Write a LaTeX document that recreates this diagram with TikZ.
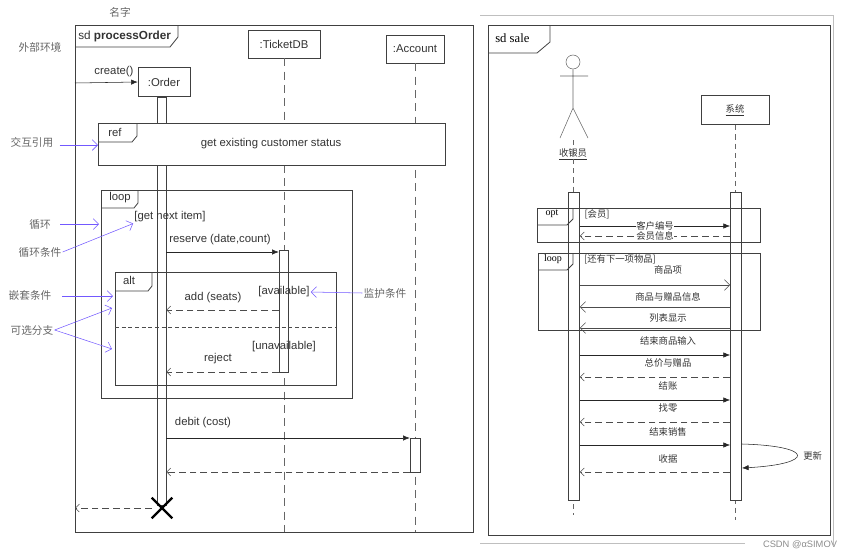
\documentclass[tikz,border=0pt]{standalone}
\usepackage{fontspec}
\setmainfont{Liberation Serif}
\newfontfamily\lsans{Liberation Sans}
\newfontfamily\cjk{Noto Sans CJK SC}
\usetikzlibrary{positioning,arrows.meta}
\definecolor{hintblue}{rgb}{0.45,0.35,1}

\tikzset{
  lbl/.style={inner sep=0.75pt, font=\lsans\fontsize{8.5}{9}\selectfont, text=black!80},
  note/.style={inner sep=0.75pt, font=\cjk\fontsize{8}{9}\selectfont, text=black!60},
  zh/.style={inner sep=0.75pt, font=\cjk\fontsize{7}{7.5}\selectfont, text=black!80},
  obj/.style={draw=black!75, fill=white, inner sep=0pt},
  act/.style={draw=black!75, fill=white, minimum width=6.75pt, inner sep=0pt},
  frm/.style={draw=black!75, line width=0.6pt},
  life/.style={draw=black!60, dash pattern=on 6pt off 4pt},
  hint/.style={draw=hintblue, -{Straight Barb[length=4pt]}},
  msg/.style={draw=black!85, -{Latex[length=5pt,width=4pt]}},
  ret/.style={draw=black!70, dash pattern=on 5pt off 3pt, -{Straight Barb[length=3pt]}},
  sync/.style={draw=black!70, -{Straight Barb[length=4pt]}}
}

\begin{document}
\begin{tikzpicture}[x=0.75pt,y=0.75pt,yscale=-1,xscale=1]
\useasboundingbox (0,0) rectangle (857,557);

% ---------- left: processOrder ----------
\draw[frm] (75,25) rectangle (473,532);
\draw[frm] (75,47) -- (170,47) -- (178,37) -- (178,25);
\node[lbl, anchor=west, font=\lsans\fontsize{8.8}{10}\selectfont] (sdpo) at (77,36) {sd \textbf{processOrder}};
\node[note] (nm) at (120,12) {名字};
\node[note] (env) at (40,47) {外部环境};

\node[obj, minimum width=54pt, minimum height=21pt, lbl] (tdb) at (284,44) {:TicketDB};
\node[obj, minimum width=43.5pt, minimum height=21pt, lbl] (acc) at (415,49) {:Account};
\node[obj, minimum width=39pt, minimum height=21.75pt, lbl] (order) at (164,82) {:Order};

\draw[life] (tdb.south) -- (284,532);
\draw[life] (acc.south) -- (415,532);
\node[act, minimum height=306pt, minimum width=6.75pt] (actO) at (161.5,301) {};
\node[act, minimum height=91.5pt] (actT) at (283.5,311) {};
\node[act, minimum height=25.5pt, minimum width=7.5pt] (actA) at (415,455) {};

\coordinate (envIn) at (75,83);
\draw[msg] (envIn) -- (order.west);
\node[lbl] (crt) at (114,72) {create()};

% ref
\draw[frm, fill=white] (98,123) rectangle (445,165);
\draw[frm] (98,142) -- (132,142) -- (137,136) -- (137,123);
\node[lbl] (refl) at (115,132) {ref};
\node[lbl] (refb) at (271,144) {get existing customer status};
\node[note] (n1) at (32,142) {交互引用};
\coordinate (r1) at (98,145);
\draw[hint] (n1.east |- r1) ++(5,0) -- (r1);

% loop
\draw[frm] (101,190) rectangle (352,398);
\draw[frm] (101,208) -- (134,208) -- (138,203) -- (138,190);
\node[lbl] (loopl) at (120,198) {loop};
\node[lbl] (cond) at (170,217) {[get next item]};
\node[note] (n2) at (40,224) {循环};
\coordinate (r2) at (99,224);
\draw[hint] (60,224) -- (r2);
\node[note] (n3) at (40,252) {循环条件};
\draw[hint] (n3.east) -- (cond.south west);

\node[lbl] (res) at (220,240) {reserve (date,count)};
\coordinate (m1) at (0,252);
\draw[msg] (actO.east |- m1) -- (actT.west |- m1);

% alt
\draw[frm] (115,272) rectangle (336,385);
\draw[frm] (115,291) -- (148,291) -- (152,286) -- (152,272);
\node[lbl] (altl) at (129,280) {alt};
\draw[draw=black!70, dash pattern=on 3pt off 2pt] (115,327) -- (336,327);
\node[note] (n4) at (30,295) {嵌套条件};
\coordinate (r4) at (113,296);
\draw[hint] (62,296) -- (r4);
\node[note] (n5) at (32,330) {可选分支};
\coordinate (r5) at (112,308);
\coordinate (r6) at (112,349);
\draw[hint] (n5.east) -- (r5);
\draw[hint] (n5.east) -- (r6);

\node[lbl] (avl) at (284,292) {[available]};
\node[note] (n6) at (385,293) {监护条件};
\draw[hint] (n6.west) -- (avl.east);
\node[lbl] (add) at (213,298) {add (seats)};
\coordinate (m2) at (0,310);
\draw[ret] (actT.west |- m2) -- (actO.east |- m2);
\node[lbl] (unav) at (284,347) {[unavailable]};
\node[lbl] (rej) at (218,359) {reject};
\coordinate (m3) at (0,372);
\draw[ret] (actT.west |- m3) -- (actO.east |- m3);

\node[lbl] (deb) at (203,423) {debit (cost)};
\coordinate (m4) at (0,438);
\draw[msg] (actO.east |- m4) -- (actA.west |- m4);
\coordinate (m5) at (0,472);
\draw[ret] (actA.west |- m5) -- (actO.east |- m5);

\node[inner sep=0pt, minimum size=15pt] (kill) at (162,508) {};
\draw[line width=1.8pt] (kill.north west) -- (kill.south east) (kill.north east) -- (kill.south west);
\coordinate (envOut) at (75,508);
\draw[ret] (kill.west) -- (envOut);

% ---------- right: sale ----------
\draw[black!25] (480,15) -- (833,15) -- (833,545);
\draw[black!25] (480,543) -- (745,543);
\draw[frm] (488,25) rectangle (830,535);
\draw[frm] (488,53) -- (537,53) -- (550,42) -- (550,25);
\node[anchor=west, inner sep=0.75pt, font=\fontsize{9.5}{10}\selectfont] (sds) at (494,38) {sd sale};

% actor
\node[draw=black!60, circle, minimum size=10.5pt, inner sep=0pt] (head) at (573,62) {};
\draw[black!60] (head.south) -- (573,108) (560,76) -- (588,76)
  (560,138) -- (573,108) -- (588,138);
\node[zh] (cash) at (573,154) {\underline{收银员}};
\draw[life, dash pattern=on 4pt off 3pt] (573,140) -- (573,515);
\node[obj, minimum width=51pt, minimum height=22pt, zh] (sys) at (735,110) {\underline{系统}};
\draw[life, dash pattern=on 4pt off 3pt] (sys.south) -- (735,520);
\node[act, minimum height=231pt, minimum width=8.5pt] (actC) at (574,346) {};
\node[act, minimum height=231pt, minimum width=8.5pt] (actS) at (736,346) {};

% opt
\draw[frm] (537,208) rectangle (760,242);
\draw[frm] (537,225) -- (567,225) -- (573,219) -- (573,208);
\node[inner sep=0.75pt, font=\fontsize{7.5}{8}\selectfont] (optl) at (552,214) {opt};
\node[zh] (mem) at (597,214) {[会员]};
\coordinate (p1) at (0,226);
\draw[msg] (actC.east |- p1) -- node[zh, fill=white, inner sep=0.3pt] {客户编号} (actS.west |- p1);
\coordinate (p2) at (0,236);
\draw[ret] (actS.west |- p2) -- node[zh, fill=white, inner sep=0.3pt] {会员信息} (actC.east |- p2);

% loop
\draw[frm] (538,253) rectangle (760,330);
\draw[frm] (538,270) -- (567,270) -- (573,264) -- (573,253);
\node[inner sep=0.75pt, font=\fontsize{7.5}{8}\selectfont] (loopr) at (553,259) {loop};
\node[zh] (more) at (620,259) {[还有下一项物品]};

\node[zh] (t1) at (668,270) {商品项};
\coordinate (q1) at (0,285);
\draw[sync] (actC.east |- q1) -- (actS.west |- q1);
\node[zh] (t2) at (668,297) {商品与赠品信息};
\coordinate (q2) at (0,307);
\draw[sync] (actS.west |- q2) -- (actC.east |- q2);
\node[zh] (t3) at (668,318) {列表显示};
\coordinate (q3) at (0,328);
\draw[sync] (actS.west |- q3) -- (actC.east |- q3);

\node[zh] (t4) at (668,341) {结束商品输入};
\coordinate (q4) at (0,355);
\draw[msg] (actC.east |- q4) -- (actS.west |- q4);
\node[zh] (t5) at (668,363) {总价与赠品};
\coordinate (q5) at (0,377);
\draw[ret] (actS.west |- q5) -- (actC.east |- q5);
\node[zh] (t6) at (668,386) {结账};
\coordinate (q6) at (0,400);
\draw[msg] (actC.east |- q6) -- (actS.west |- q6);
\node[zh] (t7) at (668,408) {找零};
\coordinate (q7) at (0,422);
\draw[ret] (actS.west |- q7) -- (actC.east |- q7);
\node[zh] (t8) at (668,432) {结束销售};
\coordinate (q8) at (0,445);
\draw[msg] (actC.east |- q8) -- (actS.west |- q8);
\node[zh] (t9) at (668,459) {收据};
\coordinate (q9) at (0,472);
\draw[ret] (actS.west |- q9) -- (actC.east |- q9);

\coordinate (u1) at (0,444);
\coordinate (u2) at (0,468);
\draw[msg] (actS.east |- u1) .. controls (815,446) and (815,464) .. (actS.east |- u2);
\node[zh, anchor=west] (upd) at (802,456) {更新};

\node[inner sep=0.75pt, font=\lsans\fontsize{7}{8}\selectfont, text=black!45] (wm) at (800,545) {CSDN @αSIMOV};
\end{tikzpicture}
\end{document}
